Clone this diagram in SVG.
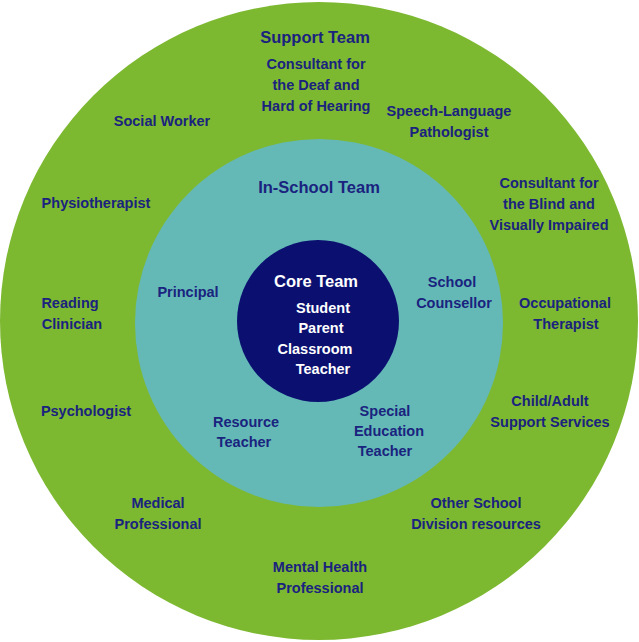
<svg xmlns="http://www.w3.org/2000/svg" width="639" height="642" viewBox="0 0 639 642">
<style>
text{font-family:"Liberation Sans",Arial,sans-serif;font-weight:bold;font-size:14.5px;fill:#1a237e;text-anchor:middle}
.h{font-size:16.5px}
.w{fill:#ffffff}
</style>
<rect width="639" height="642" fill="#ffffff"/>
<g id="support">
<circle cx="319" cy="321" r="319" fill="#7db831"/>
<text class="h" x="315" y="43">Support Team</text>
<text x="316" y="69">Consultant for</text>
<text x="316" y="90">the Deaf and</text>
<text x="316" y="111">Hard of Hearing</text>
<text x="162" y="126">Social Worker</text>
<text x="449" y="116">Speech-Language</text>
<text x="449" y="137">Pathologist</text>
<text x="96" y="208">Physiotherapist</text>
<text x="549" y="188">Consultant for</text>
<text x="549" y="209">the Blind and</text>
<text x="549" y="230">Visually Impaired</text>
<text x="70" y="308">Reading</text>
<text x="72" y="329">Clinician</text>
<text x="565" y="308">Occupational</text>
<text x="566" y="329">Therapist</text>
<text x="86" y="416">Psychologist</text>
<text x="550" y="406">Child/Adult</text>
<text x="550" y="427">Support Services</text>
<text x="158" y="508">Medical</text>
<text x="158" y="529">Professional</text>
<text x="476" y="508">Other School</text>
<text x="476" y="529">Division resources</text>
<text x="320" y="572">Mental Health</text>
<text x="320" y="593">Professional</text>
</g>
<g id="inschool">
<circle cx="319" cy="323" r="184" fill="#64b9b7"/>
<text class="h" x="319" y="193">In-School Team</text>
<text x="188" y="297">Principal</text>
<text x="452" y="287">School</text>
<text x="454" y="308">Counsellor</text>
<text x="246" y="427">Resource</text>
<text x="244" y="447">Teacher</text>
<text x="385" y="416">Special</text>
<text x="389" y="436">Education</text>
<text x="385" y="456">Teacher</text>
</g>
<g id="core">
<circle cx="318" cy="321" r="81" fill="#0b1070"/>
<text class="h w" x="316" y="287">Core Team</text>
<text class="w" x="323" y="313">Student</text>
<text class="w" x="321" y="333">Parent</text>
<text class="w" x="315" y="354">Classroom</text>
<text class="w" x="323" y="374">Teacher</text>
</g>
<g id="connectors"/>
</svg>
